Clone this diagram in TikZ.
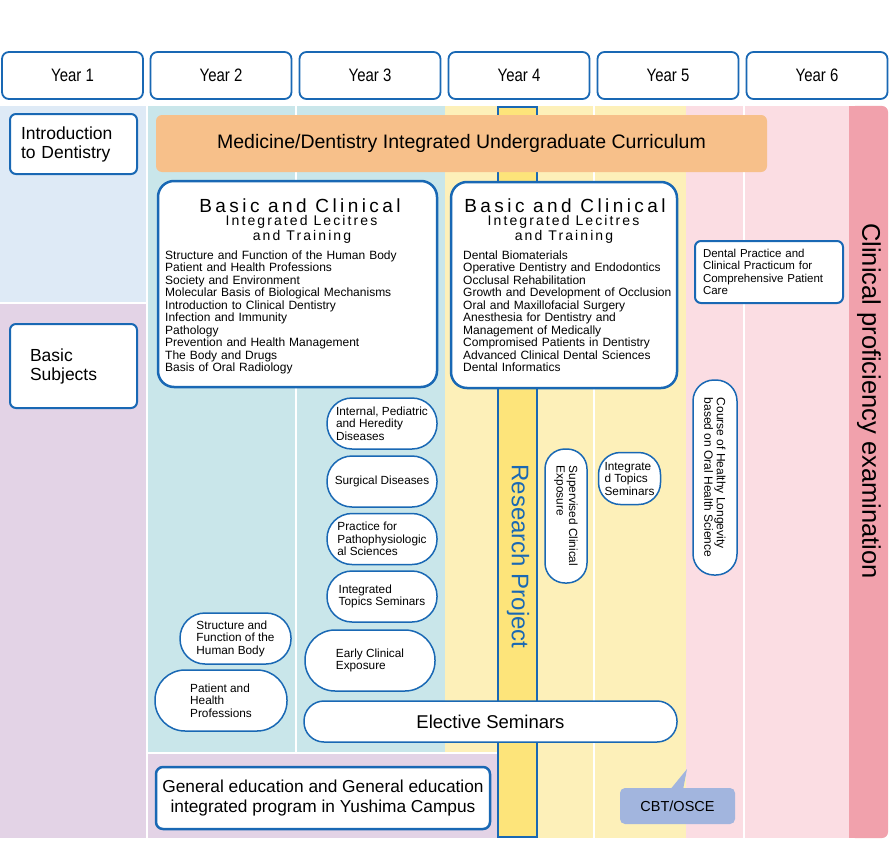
\documentclass[tikz,border=0pt]{standalone}
\usepackage{fontspec}
\setmainfont{Liberation Sans}
\definecolor{bl}{RGB}{25,104,180}
\definecolor{lblue}{RGB}{222,234,246}
\definecolor{lav}{RGB}{227,211,230}
\definecolor{cyanbg}{RGB}{201,230,234}
\definecolor{ylw}{RGB}{253,240,185}
\definecolor{ybar}{RGB}{253,228,122}
\definecolor{pnk}{RGB}{251,221,227}
\definecolor{dpnk}{RGB}{241,161,172}
\definecolor{orng}{RGB}{247,192,138}
\definecolor{cbtc}{RGB}{162,181,222}
\newcommand\myfs[2]{\fontsize{#1}{#2}\selectfont}
\begin{document}
\begin{tikzpicture}[x=1pt,y=-1pt,
  yearbox/.style={draw=bl,line width=1.8pt,fill=white,rounded corners=7pt,minimum width=141pt,minimum height=47pt,inner sep=0pt,font={\myfs{18}{18}\addfontfeatures{FakeStretch=0.83}}},
  sidebox/.style={draw=bl,line width=2pt,fill=white,rounded corners=6pt,minimum width=127pt,align=left,font=\myfs{17.5}{19}},
  bigbox/.style={draw=bl,line width=2.5pt,fill=white,rounded corners=16pt,inner sep=0pt},
  ttl/.style={anchor=base,inner sep=0pt,font={\myfs{19}{19}\addfontfeatures{LetterSpace=18}}},
  sub/.style={anchor=base,inner sep=0pt,font={\myfs{14}{14}\addfontfeatures{LetterSpace=15}}},
  lst/.style={anchor=base west,inner sep=0pt,text width=265pt,align=left,font=\myfs{12}{12.47}},
  pill/.style={draw=bl,line width=1.5pt,fill=white,inner sep=0pt,align=left,font=\myfs{11.8}{12.5}},
]
\useasboundingbox (0,0) rectangle (890,840);
% backgrounds
\fill[white] (0,0) rectangle (890,840);
\fill[lblue] (0,106) rectangle (146,302);
\fill[lav] (0,304) rectangle (146,838);
\fill[cyanbg] (148,106) rectangle (295,752);
\fill[cyanbg] (297,106) rectangle (445,752);
\fill[ylw] (445,106) rectangle (593,838);
\fill[ylw] (595,106) rectangle (686,838);
\fill[pnk] (686,106) rectangle (743,838);
\fill[pnk] (745,106) rectangle (849,838);
\fill[dpnk,rounded corners=6pt] (849,106) rectangle (888,838);
\fill[dpnk] (849,106) rectangle (865,838);
\fill[white] (146,752) rectangle (498,838);
\fill[lav] (148,754) rectangle (497,838);
% research bar
\node[draw=bl,line width=2pt,fill=ybar,minimum width=39pt,minimum height=730pt,inner sep=0pt] (rp) at (517.5,472) {};
\node[rotate=-90,text=bl,inner sep=0pt,font=\myfs{24}{24}] (rpl) at (518,556.5) {Research Project};
% years
\node[yearbox] (y1) at (72.5,75.5) {Year 1};
\node[yearbox] (y2) at (221,75.5) {Year 2};
\node[yearbox] (y3) at (370,75.5) {Year 3};
\node[yearbox] (y4) at (519,75.5) {Year 4};
\node[yearbox] (y5) at (668,75.5) {Year 5};
\node[yearbox] (y6) at (817,75.5) {Year 6};
% left column
\node[sidebox,minimum height=60pt,inner xsep=11pt,text width=105pt] (intro) at (73.5,144) {Introduction\\to Dentistry};
\node[sidebox,minimum height=84pt,inner xsep=20pt,text width=87pt] (basic) at (73.5,366) {Basic\\Subjects};
% orange
\node[fill=orng,rounded corners=6pt,minimum width=611pt,minimum height=57pt,inner sep=0pt,font=\myfs{19.5}{19.5}] (mdi) at (461.5,143.5) {Medicine/Dentistry Integrated Undergraduate Curriculum};
% big boxes
\node[bigbox,minimum width=279pt,minimum height=206pt] (bc1) at (297.5,284) {};
\node[ttl] (bc1a) at (300,212) {Basic and Clinical};
\node[sub] (bc1b) at (301.5,225.5) {Integrated Lecitres};
\node[sub] (bc1c) at (302,240.5) {and Training};
\node[lst] (l1) at (165,259.5) {Structure and Function of the Human Body\\Patient and Health Professions\\Society and Environment\\Molecular Basis of Biological Mechanisms\\Introduction to Clinical Dentistry\\Infection and Immunity\\Pathology\\Prevention and Health Management\\The Body and Drugs\\Basis of Oral Radiology};
\node[bigbox,minimum width=226pt,minimum height=206pt] (bc2) at (564,285) {};
\node[ttl] (bc2a) at (565,212) {Basic and Clinical};
\node[sub] (bc2b) at (563.5,225.5) {Integrated Lecitres};
\node[sub] (bc2c) at (564,240.5) {and Training};
\node[lst] (l2) at (463,259.5) {Dental Biomaterials\\Operative Dentistry and Endodontics\\Occlusal Rehabilitation\\Growth and Development of Occlusion\\Oral and Maxillofacial Surgery\\Anesthesia for Dentistry and\\Management of Medically\\Compromised Patients in Dentistry\\Advanced Clinical Dental Sciences\\Dental Informatics};
% right side
\node[draw=bl,line width=2pt,fill=white,rounded corners=6pt,minimum width=148pt,minimum height=62pt,inner xsep=8pt,text width=132pt,align=left,font=\myfs{11.5}{12.5}] (dp) at (769,272) {Dental Practice and\\Clinical Practicum for\\Comprehensive Patient\\Care};
\node[pill,rotate=-90,minimum width=195pt,minimum height=44pt,rounded corners=21pt,font=\myfs{12}{12.5}] (chl) at (715,477.5) {Course of Healthy Longevity\\based on Oral Health Science};
\node[rotate=-90,inner sep=0pt,font=\myfs{25.5}{25.5}] (cpe) at (869,401) {Clinical proficiency examination};
% year 3 pills
\node[pill,minimum width=110pt,minimum height=51pt,rounded corners=25pt] (p1) at (382,423.5) {Internal, Pediatric\\and Heredity\\Diseases};
\node[pill,minimum width=110pt,minimum height=51pt,rounded corners=25pt] (p2) at (382,481.5) {Surgical Diseases};
\node[pill,minimum width=110pt,minimum height=51pt,rounded corners=25pt] (p3) at (382,539) {Practice for\\Pathophysiologic\\al Sciences};
\node[pill,minimum width=110pt,minimum height=51pt,rounded corners=25pt] (p4) at (382,596.5) {Integrated\\Topics Seminars};
\node[pill,minimum width=130pt,minimum height=61pt,rounded corners=30pt] (p5) at (370,660.5) {Early Clinical\\Exposure};
\node[pill,minimum width=111pt,minimum height=51pt,rounded corners=25pt] (p6) at (235.5,638.5) {Structure and\\Function of the\\Human Body};
\node[pill,minimum width=132pt,minimum height=61pt,rounded corners=30pt] (p7) at (221,700.5) {Patient and\\Health\\Professions};
\node[pill,minimum width=373pt,minimum height=41pt,rounded corners=20pt,font=\myfs{18.5}{18.5}] (es) at (490.5,721.5) {Elective Seminars};
% year 4/5 pills
\node[pill,rotate=-90,minimum width=134pt,minimum height=42pt,rounded corners=20pt] (sce) at (566,516) {Supervised Clinical\\Exposure};
\node[pill,minimum width=62pt,minimum height=52pt,rounded corners=22pt] (its5) at (629.5,478.5) {Integrate\\d Topics\\Seminars};
% bottom
\node[draw=bl,line width=2.5pt,fill=white,rounded corners=7pt,minimum width=334pt,minimum height=62pt,inner sep=0pt,align=center,font=\myfs{17.3}{19.5}] (ge) at (323,798) {General education and General education\\integrated program in Yushima Campus};
\node[fill=cbtc,rounded corners=5pt,minimum width=115pt,minimum height=36pt,inner sep=0pt,font=\myfs{14.5}{14.5}] (cbt) at (677.5,806) {CBT/OSCE};
\coordinate (cbttip) at (687,769);
\fill[cbtc] ([xshift=-7.5pt,yshift=-2pt]cbt.north) -- (cbttip) -- ([xshift=5.5pt,yshift=-2pt]cbt.north) -- cycle;
\end{tikzpicture}
\end{document}
